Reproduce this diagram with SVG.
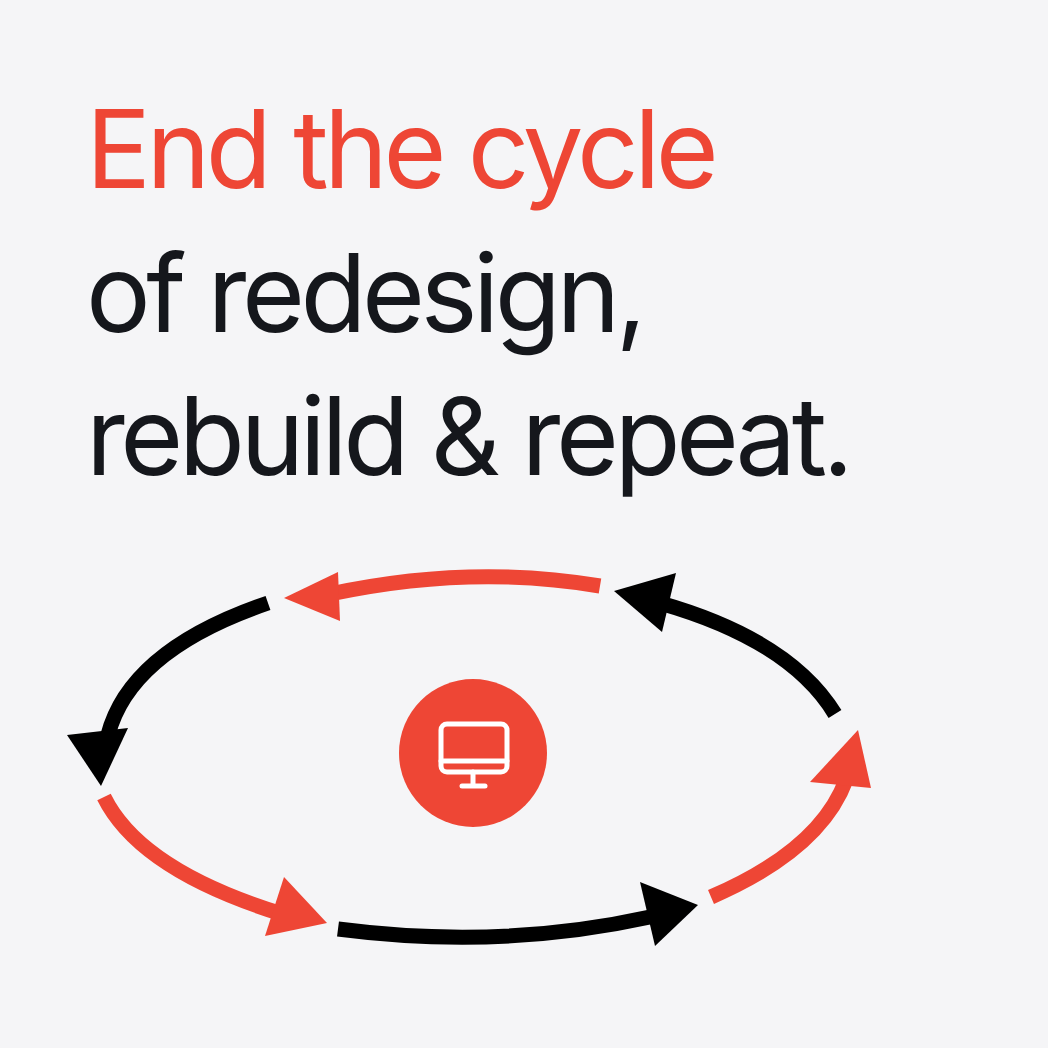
<svg xmlns="http://www.w3.org/2000/svg" width="1048" height="1048" viewBox="0 0 1048 1048">
<style>
.t{font-family:Inter,"Liberation Sans",sans-serif;font-size:108px;letter-spacing:-4.5px}
.r{stroke:#ee4635;fill:none;stroke-width:15}
.k{stroke:#000;fill:none;stroke-width:15}
.rh{fill:#ee4635}.kh{fill:#000}
</style>
<rect width="1048" height="1048" fill="#f5f5f7"/>
<g id="title">
<text class="t" x="86" y="188" fill="#ee4635">End the cycle</text>
<text class="t" x="86" y="332" fill="#15171c">of redesign,</text>
<text class="t" x="86" y="475" fill="#15171c">rebuild &amp; repeat.</text>
</g>
<g id="connectors">
<path class="r" d="M600,586 Q470,564 330,594"/>
<polygon class="rh" points="284,598 338,572 340,621"/>
<path class="k" d="M835,714 Q790,640 660,603"/>
<polygon class="kh" points="614,591 676,573 662,632"/>
<path class="r" d="M711,897 Q820,850 846,780"/>
<polygon class="rh" points="858,730 810,782 871,788"/>
<path class="k" d="M338,929 Q500,950 650,917"/>
<polygon class="kh" points="698,905 640,882 655,946"/>
<path class="r" d="M104,797 Q140,870 282,914"/>
<polygon class="rh" points="327,923 284,877 265,936"/>
<path class="k" d="M268,603 Q130,650 108,735"/>
<polygon class="kh" points="101,786 67,735 128,728"/>
</g>
<g id="center">
<circle cx="473" cy="753" r="74" fill="#ee4635"/>
<g fill="none" stroke="#fff" stroke-width="5" stroke-linecap="round">
<rect x="441" y="724" width="66" height="48" rx="6"/>
<line x1="441" y1="761" x2="507" y2="761"/>
<line x1="473" y1="772" x2="473" y2="785"/>
<line x1="462" y1="786" x2="485" y2="786"/>
</g>
</g>
</svg>
